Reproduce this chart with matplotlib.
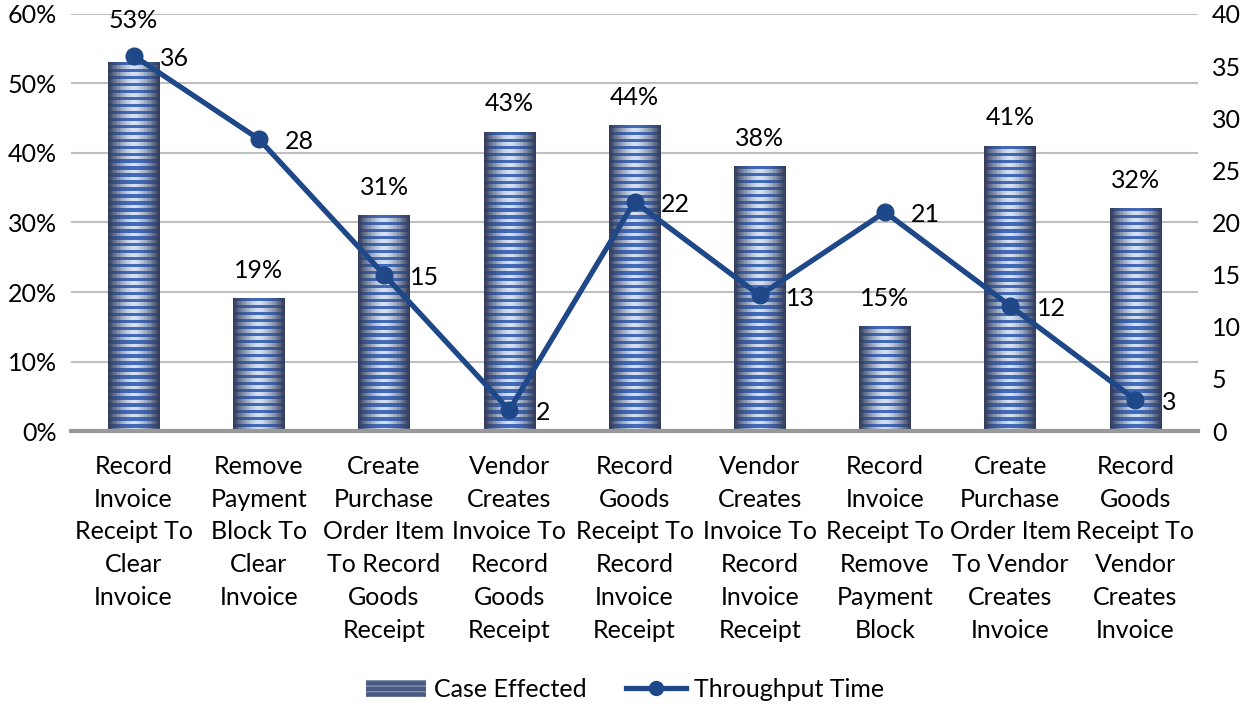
import matplotlib
matplotlib.use("Agg")
import matplotlib.pyplot as plt
import numpy as np
from matplotlib.patches import Patch
from matplotlib.lines import Line2D
from matplotlib.ticker import FuncFormatter, MultipleLocator

plt.rcParams["font.family"] = ["Lato", "DejaVu Sans"]

steps = [
    "Record\nInvoice\nReceipt To\nClear\nInvoice",
    "Remove\nPayment\nBlock To\nClear\nInvoice",
    "Create\nPurchase\nOrder Item\nTo Record\nGoods\nReceipt",
    "Vendor\nCreates\nInvoice To\nRecord\nGoods\nReceipt",
    "Record\nGoods\nReceipt To\nRecord\nInvoice\nReceipt",
    "Vendor\nCreates\nInvoice To\nRecord\nInvoice\nReceipt",
    "Record\nInvoice\nReceipt To\nRemove\nPayment\nBlock",
    "Create\nPurchase\nOrder Item\nTo Vendor\nCreates\nInvoice",
    "Record\nGoods\nReceipt To\nVendor\nCreates\nInvoice",
]
case_effected = [53, 19, 31, 43, 44, 38, 15, 41, 32]
throughput = [36, 28, 15, 2, 22, 13, 21, 12, 3]

line_col = "#1f4888"
fs = 18

fig = plt.figure(figsize=(12.5, 7.06), dpi=100)
ax = fig.add_axes([0.0568, 0.3895, 0.9016, 0.5907])
x = np.arange(len(steps))

bars = ax.bar(x, case_effected, width=0.41, color="none", zorder=2)


def stripe_img(h):
    # striped cylinder-like texture for a bar
    n = max(int(h * 2), 1)
    cols = np.linspace(0, 1, 40)
    t = np.abs(2 * cols - 1)
    img = np.zeros((n, 40, 3))
    blue = np.array([0.26, 0.42, 0.74])
    light = np.array([0.84, 0.89, 0.96])
    dark = np.array([0.2, 0.24, 0.36])
    for r in range(n):
        if r % 2 == 0:
            w = (t ** 1.8)[:, None]
            img[r] = blue * (1 - w) + dark * w
        else:
            w = (t ** 1.4)[:, None]
            img[r] = light * (1 - w) + dark * w
    return img


for b, v in zip(bars, case_effected):
    x0 = b.get_x()
    ax.imshow(stripe_img(v), extent=[x0, x0 + b.get_width(), 0, v],
              aspect="auto", interpolation="nearest", zorder=2)
    ax.annotate(f"{v}%", (b.get_x() + b.get_width() / 2, v),
                xytext=(0, 12 if v < 50 else 22), textcoords="offset points",
                ha="center", va="bottom", fontsize=fs)

ax.set_xlim(-0.5, len(steps) - 0.5)
ax.set_ylim(0, 60)
ax.yaxis.set_major_locator(MultipleLocator(10))
ax.yaxis.set_major_formatter(FuncFormatter(lambda v, p: f"{v:.0f}%"))
ax.set_xticks(x)
ax.set_xticklabels(steps, fontsize=fs)
for lbl in ax.get_xticklabels():
    lbl.set_linespacing(1.52)
ax.tick_params(axis="y", labelsize=fs, length=0, pad=10)
ax.tick_params(axis="x", length=0, pad=17)
ax.grid(axis="y", color="#bfbfbf", linewidth=1.5, zorder=0)
ax.set_axisbelow(True)
for s in ["top", "right", "left"]:
    ax.spines[s].set_visible(False)
ax.spines["bottom"].set_color("#999999")
ax.spines["bottom"].set_linewidth(3)
ax.spines["bottom"].set_zorder(3)

ax2 = ax.twinx()
ax2.plot(x, throughput, color=line_col, linewidth=3.8, marker="o",
         markersize=12, zorder=5)
for xi, v in zip(x, throughput):
    ax2.annotate(str(v), (xi, v), xytext=(19, -2), textcoords="offset points",
                 ha="left", va="center", fontsize=fs)
ax2.set_ylim(0, 40)
ax2.yaxis.set_major_locator(MultipleLocator(5))
ax2.tick_params(axis="y", labelsize=fs, length=0, pad=10)
for s in ax2.spines.values():
    s.set_visible(False)

handles = [
    Patch(facecolor="#4a5a82", edgecolor="#8090b0", hatch="---", linewidth=0),
    Line2D([0], [0], color=line_col, linewidth=3.8, marker="o", markersize=10),
]
fig.legend(handles, ["Case Effected", "Throughput Time"], loc="lower center",
           bbox_to_anchor=(0.5, -0.025), ncol=2, frameon=False, fontsize=fs,
           handlelength=2.4, columnspacing=1.6, handletextpad=0.3)

fig.savefig("out.png", dpi=100)
